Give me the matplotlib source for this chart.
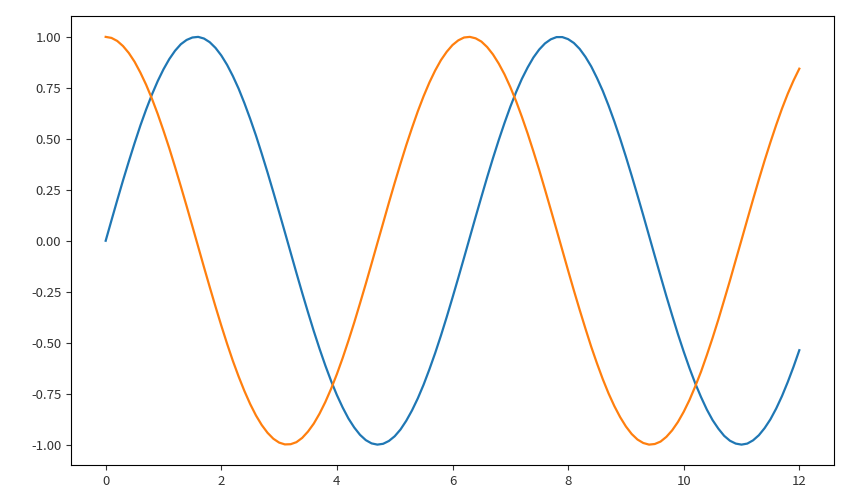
import matplotlib
matplotlib.use("Agg")
import matplotlib.pyplot as plt

x_vals = [0.0, 0.1, 0.2, 0.3, 0.4, 0.5, 0.6, 0.7, 0.8, 0.9,
          1.0, 1.1, 1.2, 1.3, 1.4, 1.5, 1.6, 1.7, 1.8, 1.9,
          2.0, 2.1, 2.2, 2.3, 2.4, 2.5, 2.6, 2.7, 2.8, 2.9,
          3.0, 3.1, 3.2, 3.3, 3.4, 3.5, 3.6, 3.7, 3.8, 3.9,
          4.0, 4.1, 4.2, 4.3, 4.4, 4.5, 4.6, 4.7, 4.8, 4.9,
          5.0, 5.1, 5.2, 5.3, 5.4, 5.5, 5.6, 5.7, 5.8, 5.9,
          6.0, 6.1, 6.2, 6.3, 6.4, 6.5, 6.6, 6.7, 6.8, 6.9,
          7.0, 7.1, 7.2, 7.3, 7.4, 7.5, 7.6, 7.7, 7.8, 7.9,
          8.0, 8.1, 8.2, 8.3, 8.4, 8.5, 8.6, 8.7, 8.8, 8.9,
          9.0, 9.1, 9.2, 9.3, 9.4, 9.5, 9.6, 9.7, 9.8, 9.9,
          10.0, 10.1, 10.2, 10.3, 10.4, 10.5, 10.6, 10.7, 10.8, 10.9,
          11.0, 11.1, 11.2, 11.3, 11.4, 11.5, 11.6, 11.7, 11.8, 11.9,
          12.0]

blue_vals = [0.000, 0.100, 0.199, 0.296, 0.389, 0.479, 0.565, 0.644, 0.717, 0.783,
             0.841, 0.891, 0.932, 0.964, 0.985, 0.997, 1.000, 0.992, 0.974, 0.946,
             0.909, 0.863, 0.808, 0.746, 0.675, 0.598, 0.516, 0.427, 0.335, 0.239,
             0.141, 0.042, -0.058, -0.158, -0.256, -0.351, -0.443, -0.530, -0.612, -0.688,
             -0.757, -0.818, -0.872, -0.916, -0.952, -0.978, -0.994, -1.000, -0.996, -0.982,
             -0.959, -0.926, -0.883, -0.832, -0.773, -0.706, -0.631, -0.551, -0.465, -0.374,
             -0.279, -0.182, -0.083, 0.017, 0.117, 0.215, 0.312, 0.405, 0.494, 0.578,
             0.657, 0.729, 0.794, 0.850, 0.899, 0.938, 0.968, 0.988, 0.999, 0.999,
             0.989, 0.970, 0.941, 0.902, 0.855, 0.798, 0.735, 0.663, 0.585, 0.501,
             0.412, 0.319, 0.223, 0.125, 0.025, -0.075, -0.174, -0.272, -0.366, -0.458,
             -0.544, -0.625, -0.700, -0.767, -0.828, -0.880, -0.922, -0.957, -0.981, -0.995,
             -1.000, -0.995, -0.979, -0.954, -0.919, -0.876, -0.823, -0.762, -0.693, -0.618,
             -0.537]

orange_vals = [1.000, 0.995, 0.980, 0.955, 0.921, 0.878, 0.825, 0.765, 0.697, 0.622,
               0.540, 0.454, 0.362, 0.267, 0.170, 0.071, -0.029, -0.129, -0.227, -0.323,
               -0.416, -0.505, -0.589, -0.666, -0.737, -0.801, -0.857, -0.904, -0.942, -0.971,
               -0.990, -0.999, -0.998, -0.988, -0.967, -0.936, -0.897, -0.848, -0.791, -0.726,
               -0.654, -0.575, -0.490, -0.401, -0.307, -0.211, -0.112, -0.012, 0.087, 0.187,
               0.284, 0.378, 0.469, 0.554, 0.635, 0.709, 0.776, 0.835, 0.886, 0.927,
               0.960, 0.983, 0.997, 1.000, 0.993, 0.977, 0.950, 0.914, 0.869, 0.816,
               0.754, 0.685, 0.608, 0.526, 0.438, 0.347, 0.251, 0.153, 0.054, -0.046,
               -0.146, -0.244, -0.339, -0.431, -0.520, -0.602, -0.679, -0.749, -0.811, -0.865,
               -0.911, -0.948, -0.975, -0.992, -1.000, -0.997, -0.985, -0.962, -0.930, -0.889,
               -0.839, -0.781, -0.714, -0.642, -0.561, -0.476, -0.386, -0.291, -0.195, -0.095,
               0.004, 0.104, 0.203, 0.300, 0.394, 0.483, 0.568, 0.648, 0.721, 0.786,
               0.844]

x_ticks = [0, 2, 4, 6, 8, 10, 12]
y_ticks = [-1.0, -0.75, -0.5, -0.25, 0.0, 0.25, 0.5, 0.75, 1.0]
y_tick_labels = ['-1.00', '-0.75', '-0.50', '-0.25', '0.00', '0.25', '0.50', '0.75', '1.00']

plt.rcParams['font.family'] = ['Noto Sans CJK KR', 'DejaVu Sans']
plt.rcParams['axes.unicode_minus'] = False

fig = plt.figure(figsize=(8.57, 4.92), dpi=100)
ax = fig.add_axes([71/857, 1 - 465/492, (834 - 71)/857, (465 - 16.5)/492])

ax.plot(x_vals, blue_vals, color='#1f77b4', linewidth=1.6)
ax.plot(x_vals, orange_vals, color='#ff7f0e', linewidth=1.6)

ax.set_xticks(x_ticks)
ax.set_yticks(y_ticks)
ax.set_yticklabels(y_tick_labels)
ax.tick_params(labelsize=9.5, colors='#333333')

fig.savefig('out.png', dpi=100)
